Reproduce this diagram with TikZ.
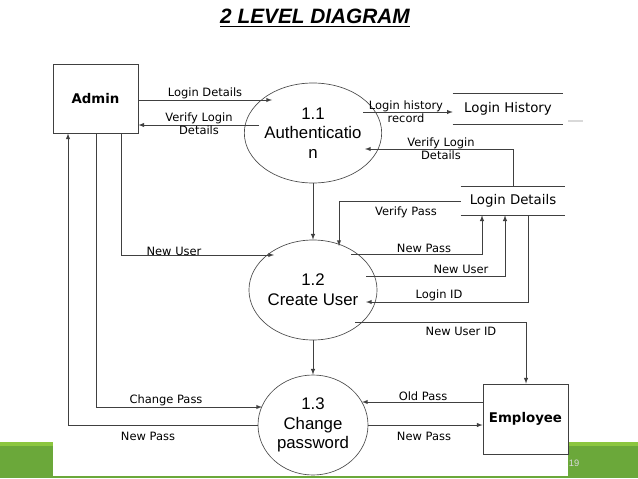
\documentclass[tikz,border=0pt]{standalone}
\usepackage{fontspec}
\setmainfont{Liberation Sans}
\newfontfamily\lblfont{DejaVu Sans}
\usetikzlibrary{positioning,shapes.geometric}
\definecolor{barlight}{HTML}{8CC63F}
\definecolor{bardark}{HTML}{6BA83A}
\begin{document}
\begin{tikzpicture}[%
		x=0.75pt,y=-0.75pt,
		>=latex,
		flow/.style={->,draw=black!75,line width=0.5pt},
		lbl/.style={font=\lblfont\fontsize{8.6}{9.5}\selectfont,inner sep=0pt,align=center},
		proc/.style={ellipse,draw=black!70,line width=0.5pt,fill=white,
			minimum width=82.5pt,minimum height=75pt,inner sep=0pt,align=center,
			font=\fontsize{12.6}{14.8}\selectfont},
		ent/.style={draw=black!75,line width=0.6pt,fill=white,inner sep=0pt,
			font=\lblfont\bfseries\fontsize{10}{12}\selectfont},
		store/.style={inner sep=0pt,font=\lblfont\fontsize{10}{12}\selectfont}
		]
		\useasboundingbox (0,0) rectangle (638,478);
		% background
		\fill[bardark] (0,442) rectangle (638,478);
		\fill[barlight] (0,442) rectangle (638,446);
		\fill[white] (53,442) rectangle (568,476);
		\node[text=white!85!black,font=\fontsize{7}{8}\selectfont] (pg) at (574,463) {19};
		\node[font=\bfseries\itshape\fontsize{15.6}{18}\selectfont] (title) at (315,18) {\underline{2 LEVEL DIAGRAM}};
		
		% entities and processes
		\node[ent,minimum width=63.75pt,minimum height=51.75pt] (admin) at (95.5,98.5) {Admin};
		\node[ent,minimum width=63.75pt,minimum height=52.5pt] (emp) at (525.5,419) {Employee};
		\node[proc] (p11) at (313,133) {1.1\\Authenticatio\\n};
		\node[proc] (p12) at (313,290) {1.2\\Create User};
		\node[proc] (p13) at (313,425) {1.3\\Change\\password};
		\node[store,minimum width=82.5pt,minimum height=22.5pt] (hist) at (508,109) {Login History};
		\node[store,minimum width=78pt,minimum height=21pt] (det) at (513,201) {Login Details};
		\draw[black!75] (hist.north west) -- (hist.north east) (hist.south west) -- (hist.south east);
		\draw[black!75] (det.north west) -- (det.north east) (det.south west) -- (det.south east);
		\draw[black!15,line width=1pt] (568,121) coordinate (hx) -- (583,121);
		
		% points on the process borders
		\path (p11) ++(-41,-33) coordinate (a1) (p11) ++(-54,-8) coordinate (a2)
			(p11) ++(50,-21) coordinate (a3) (p11) ++(52,16) coordinate (a4);
		\path (p12) ++(26,-44) coordinate (b1) (p12) ++(-39,-35) coordinate (b2)
			(p12) ++(38,-36) coordinate (b3) (p12) ++(53,-14) coordinate (b4)
			(p12) ++(53,12) coordinate (b5) (p12) ++(42,32) coordinate (b6);
		\path (p13) ++(-51,-18) coordinate (c1) (p13) ++(-55,0) coordinate (c2)
			(p13) ++(49,-23) coordinate (c3) (p13) ++(55,0) coordinate (c4);
		
		% flows
		\draw[flow] (admin.east |- a1) -- (a1);
		\draw[flow] (a2) -- (admin.east |- a2);
		\draw[flow] (a3) -- (hist.west |- a3);
		\draw[flow] (det.north) -- (det.north |- a4) -- (a4);
		\draw[flow] (p11) -- (p12);
		\draw[flow] (det.west) -- (det.west -| b1) -- (b1);
		\draw[flow] (admin.south -| 121,0) -- (121,255) -- (b2);
		\draw[flow] (b3) -- (b3 -| 482,0) -- (det.south -| 482,0);
		\draw[flow] (b4) -- (b4 -| 505,0) -- (det.south -| 505,0);
		\draw[flow] (det.south -| 528,0) -- (b5 -| 528,0) -- (b5);
		\draw[flow] (b6) -- (b6 -| 526,0) -- (emp.north -| 526,0);
		\draw[flow] (p12) -- (p13);
		\draw[flow] (admin.south -| 96,0) -- (c1 -| 96,0) -- (c1);
		\draw[flow] (c2) -- (c2 -| 68,0) -- (admin.south -| 68,0);
		\draw[flow] (emp.west |- c3) -- (c3);
		\draw[flow] (c4) -- (emp.west |- c4);
		
		% flow labels
		\node[lbl] (l1) at (205,93) {Login Details};
		\node[lbl] (l2) at (199,124) {Verify Login\\Details};
		\node[lbl] (l3) at (406,112) {Login history\\record};
		\node[lbl] (l4) at (441,149) {Verify Login\\Details};
		\node[lbl] (l5) at (406,212) {Verify Pass};
		\node[lbl] (l6) at (174,251) {New User};
		\node[lbl] (l7) at (424,248) {New Pass};
		\node[lbl] (l8) at (461,269) {New User};
		\node[lbl] (l9) at (439,295) {Login ID};
		\node[lbl] (l10) at (461,331) {New User ID};
		\node[lbl] (l11) at (166,400) {Change Pass};
		\node[lbl] (l12) at (148,436) {New Pass};
		\node[lbl] (l13) at (423,396) {Old Pass};
		\node[lbl] (l14) at (424,436) {New Pass};
\end{tikzpicture}
\end{document}
